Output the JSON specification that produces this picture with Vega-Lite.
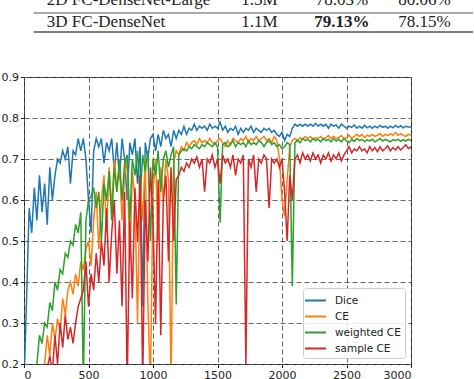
{
  "$schema": "https://vega.github.io/schema/vega-lite/v6.json",
  "background": "white",
  "padding": 0,
  "spacing": 34,
  "resolve": {"legend": {"color": "independent"}, "scale": {"color": "independent", "x": "independent", "y": "independent"}},
  "config": {
    "view": {"stroke": "#222", "strokeWidth": 1},
    "axis": {
      "labelFont": "DejaVu Sans", "labelFontSize": 11, "labelColor": "#222",
      "tickColor": "#222", "tickSize": 3.5, "domain": false,
      "gridColor": "#555", "gridDash": [5, 3], "gridWidth": 0.9, "gridOpacity": 1
    }
  },
  "vconcat": [
    {
      "width": 449,
      "height": 36,
      "view": {"stroke": null},
      "layer": [
        {
          "data": {"values": [
            {"ypos": 1.378, "x1": 0.42, "x2": 5.75, "w": 1.0},
            {"ypos": 2.22, "x1": 0.42, "x2": 5.75, "w": 1.6}
          ]},
          "mark": {"type": "rule", "color": "#555", "clip": true},
          "encoding": {
            "y": {"field": "ypos", "type": "quantitative", "scale": {"domain": [0.8, 2.4], "reverse": true, "nice": false, "zero": false}, "axis": null},
            "x": {"field": "x1", "type": "quantitative", "scale": {"domain": [0.303, 5.75], "nice": false, "zero": false}, "axis": null},
            "x2": {"field": "x2"},
            "strokeWidth": {"field": "w", "type": "quantitative", "scale": null, "legend": null}
          }
        },
        {
          "data": {"values": [
            {"row": 1, "col": 0.58, "label": "2D FC-DenseNet-Large", "anchor": "left", "bold": false},
            {"row": 1, "col": 3.16, "label": "1.5M", "anchor": "center", "bold": false},
            {"row": 1, "col": 4.16, "label": "78.03%", "anchor": "center", "bold": false},
            {"row": 1, "col": 5.16, "label": "80.06%", "anchor": "center", "bold": false},
            {"row": 2, "col": 0.58, "label": "3D FC-DenseNet", "anchor": "left", "bold": false},
            {"row": 2, "col": 3.16, "label": "1.1M", "anchor": "center", "bold": false},
            {"row": 2, "col": 4.16, "label": "79.13%", "anchor": "center", "bold": true},
            {"row": 2, "col": 5.16, "label": "78.15%", "anchor": "center", "bold": false}
          ]},
          "layer": [
            {
              "transform": [{"filter": "datum.anchor == 'left'"}],
              "mark": {"type": "text", "font": "Liberation Serif", "fontSize": 17, "color": "#222", "align": "left", "baseline": "alphabetic", "clip": true},
              "encoding": {
                "x": {"field": "col", "type": "quantitative", "scale": {"domain": [0.303, 5.75], "nice": false, "zero": false}, "axis": null},
                "y": {"field": "row", "type": "quantitative", "scale": {"domain": [0.8, 2.4], "reverse": true, "nice": false, "zero": false}, "axis": null},
                "text": {"field": "label"}
              }
            },
            {
              "transform": [{"filter": "datum.anchor == 'center' && !datum.bold"}],
              "mark": {"type": "text", "font": "Liberation Serif", "fontSize": 17, "color": "#222", "align": "center", "baseline": "alphabetic", "clip": true},
              "encoding": {
                "x": {"field": "col", "type": "quantitative", "scale": {"domain": [0.303, 5.75], "nice": false, "zero": false}, "axis": null},
                "y": {"field": "row", "type": "quantitative", "scale": {"domain": [0.8, 2.4], "reverse": true, "nice": false, "zero": false}, "axis": null},
                "text": {"field": "label"}
              }
            },
            {
              "transform": [{"filter": "datum.bold"}],
              "mark": {"type": "text", "font": "Liberation Serif", "fontSize": 17, "fontWeight": "bold", "color": "#222", "align": "center", "baseline": "alphabetic", "clip": true},
              "encoding": {
                "x": {"field": "col", "type": "quantitative", "scale": {"domain": [0.303, 5.75], "nice": false, "zero": false}, "axis": null},
                "y": {"field": "row", "type": "quantitative", "scale": {"domain": [0.8, 2.4], "reverse": true, "nice": false, "zero": false}, "axis": null},
                "text": {"field": "label"}
              }
            }
          ]
        }
      ]
    },
    {
      "width": 387,
      "height": 287,
      "data": {"values": [
{"x":0,"Dice":0.15,"CE":0.1,"weighted CE":0.1,"sample CE":0.1},
{"x":20,"Dice":0.36,"CE":0.1,"weighted CE":0.1,"sample CE":0.1},
{"x":40,"Dice":0.58,"CE":0.1,"weighted CE":0.1,"sample CE":0.1},
{"x":60,"Dice":0.52,"CE":0.1,"weighted CE":0.1,"sample CE":0.1},
{"x":80,"Dice":0.63,"CE":0.1,"weighted CE":0.1,"sample CE":0.1},
{"x":100,"Dice":0.55,"CE":0.1,"weighted CE":0.2,"sample CE":0.1},
{"x":120,"Dice":0.66,"CE":0.12,"weighted CE":0.27,"sample CE":0.12},
{"x":140,"Dice":0.57,"CE":0.15,"weighted CE":0.25,"sample CE":0.14},
{"x":160,"Dice":0.64,"CE":0.2,"weighted CE":0.3,"sample CE":0.16},
{"x":180,"Dice":0.54,"CE":0.27,"weighted CE":0.29,"sample CE":0.19},
{"x":200,"Dice":0.68,"CE":0.22,"weighted CE":0.35,"sample CE":0.22},
{"x":220,"Dice":0.6,"CE":0.3,"weighted CE":0.33,"sample CE":0.18},
{"x":240,"Dice":0.66,"CE":0.26,"weighted CE":0.4,"sample CE":0.27},
{"x":260,"Dice":0.7,"CE":0.31,"weighted CE":0.38,"sample CE":0.2},
{"x":280,"Dice":0.69,"CE":0.28,"weighted CE":0.43,"sample CE":0.3},
{"x":300,"Dice":0.72,"CE":0.36,"weighted CE":0.42,"sample CE":0.24},
{"x":320,"Dice":0.7,"CE":0.32,"weighted CE":0.47,"sample CE":0.32},
{"x":340,"Dice":0.73,"CE":0.38,"weighted CE":0.46,"sample CE":0.26},
{"x":360,"Dice":0.64,"CE":0.4,"weighted CE":0.5,"sample CE":0.29},
{"x":380,"Dice":0.72,"CE":0.37,"weighted CE":0.49,"sample CE":0.25},
{"x":400,"Dice":0.71,"CE":0.42,"weighted CE":0.54,"sample CE":0.3},
{"x":420,"Dice":0.75,"CE":0.39,"weighted CE":0.52,"sample CE":0.34},
{"x":440,"Dice":0.72,"CE":0.45,"weighted CE":0.57,"sample CE":0.36},
{"x":460,"Dice":0.75,"CE":0.43,"weighted CE":0.15,"sample CE":0.38},
{"x":480,"Dice":0.7,"CE":0.48,"weighted CE":0.55,"sample CE":0.45},
{"x":500,"Dice":0.6,"CE":0.5,"weighted CE":0.6,"sample CE":0.34},
{"x":520,"Dice":0.52,"CE":0.44,"weighted CE":0.61,"sample CE":0.42},
{"x":540,"Dice":0.72,"CE":0.55,"weighted CE":0.63,"sample CE":0.38},
{"x":560,"Dice":0.75,"CE":0.62,"weighted CE":0.58,"sample CE":0.47},
{"x":580,"Dice":0.73,"CE":0.48,"weighted CE":0.62,"sample CE":0.4},
{"x":600,"Dice":0.75,"CE":0.6,"weighted CE":0.5,"sample CE":0.5},
{"x":620,"Dice":0.69,"CE":0.66,"weighted CE":0.64,"sample CE":0.44},
{"x":640,"Dice":0.74,"CE":0.52,"weighted CE":0.6,"sample CE":0.58},
{"x":660,"Dice":0.72,"CE":0.68,"weighted CE":0.67,"sample CE":0.4},
{"x":680,"Dice":0.75,"CE":0.58,"weighted CE":0.55,"sample CE":0.52},
{"x":700,"Dice":0.67,"CE":0.7,"weighted CE":0.68,"sample CE":0.6},
{"x":720,"Dice":0.74,"CE":0.62,"weighted CE":0.62,"sample CE":0.42},
{"x":740,"Dice":0.65,"CE":0.69,"weighted CE":0.7,"sample CE":0.55},
{"x":760,"Dice":0.75,"CE":0.55,"weighted CE":0.6,"sample CE":0.34},
{"x":780,"Dice":0.7,"CE":0.66,"weighted CE":0.69,"sample CE":0.62},
{"x":800,"Dice":0.6,"CE":0.7,"weighted CE":0.71,"sample CE":0.15},
{"x":820,"Dice":0.74,"CE":0.45,"weighted CE":0.55,"sample CE":0.55},
{"x":840,"Dice":0.71,"CE":0.67,"weighted CE":0.7,"sample CE":0.36},
{"x":860,"Dice":0.75,"CE":0.6,"weighted CE":0.66,"sample CE":0.63},
{"x":880,"Dice":0.64,"CE":0.3,"weighted CE":0.72,"sample CE":0.5},
{"x":900,"Dice":0.73,"CE":0.65,"weighted CE":0.6,"sample CE":0.66},
{"x":920,"Dice":0.34,"CE":0.55,"weighted CE":0.71,"sample CE":0.15},
{"x":940,"Dice":0.74,"CE":0.7,"weighted CE":0.67,"sample CE":0.6},
{"x":960,"Dice":0.7,"CE":0.35,"weighted CE":0.72,"sample CE":0.45},
{"x":980,"Dice":0.75,"CE":0.15,"weighted CE":0.5,"sample CE":0.68},
{"x":1000,"Dice":0.76,"CE":0.62,"weighted CE":0.7,"sample CE":0.55},
{"x":1020,"Dice":0.72,"CE":0.7,"weighted CE":0.66,"sample CE":0.3},
{"x":1040,"Dice":0.76,"CE":0.5,"weighted CE":0.72,"sample CE":0.65},
{"x":1060,"Dice":0.73,"CE":0.68,"weighted CE":0.62,"sample CE":0.27},
{"x":1080,"Dice":0.77,"CE":0.6,"weighted CE":0.7,"sample CE":0.6},
{"x":1100,"Dice":0.75,"CE":0.7,"weighted CE":0.72,"sample CE":0.66},
{"x":1120,"Dice":0.76,"CE":0.65,"weighted CE":0.68,"sample CE":0.45},
{"x":1140,"Dice":0.73,"CE":0.15,"weighted CE":0.71,"sample CE":0.68},
{"x":1160,"Dice":0.77,"CE":0.69,"weighted CE":0.73,"sample CE":0.5},
{"x":1180,"Dice":0.75,"CE":0.72,"weighted CE":0.345,"sample CE":0.65},
{"x":1200,"Dice":0.77,"CE":0.71,"weighted CE":0.71,"sample CE":0.66},
{"x":1220,"Dice":0.76,"CE":0.73,"weighted CE":0.72,"sample CE":0.68},
{"x":1240,"Dice":0.78,"CE":0.72,"weighted CE":0.725,"sample CE":0.67},
{"x":1260,"Dice":0.76,"CE":0.74,"weighted CE":0.72,"sample CE":0.69},
{"x":1280,"Dice":0.775,"CE":0.73,"weighted CE":0.73,"sample CE":0.68},
{"x":1300,"Dice":0.77,"CE":0.74,"weighted CE":0.725,"sample CE":0.7},
{"x":1320,"Dice":0.785,"CE":0.745,"weighted CE":0.735,"sample CE":0.69},
{"x":1340,"Dice":0.77,"CE":0.735,"weighted CE":0.73,"sample CE":0.705},
{"x":1360,"Dice":0.78,"CE":0.75,"weighted CE":0.725,"sample CE":0.68},
{"x":1380,"Dice":0.775,"CE":0.74,"weighted CE":0.735,"sample CE":0.7},
{"x":1400,"Dice":0.78,"CE":0.745,"weighted CE":0.73,"sample CE":0.62},
{"x":1420,"Dice":0.77,"CE":0.74,"weighted CE":0.74,"sample CE":0.7},
{"x":1440,"Dice":0.785,"CE":0.75,"weighted CE":0.735,"sample CE":0.69},
{"x":1460,"Dice":0.775,"CE":0.74,"weighted CE":0.73,"sample CE":0.71},
{"x":1480,"Dice":0.78,"CE":0.735,"weighted CE":0.74,"sample CE":0.68},
{"x":1500,"Dice":0.775,"CE":0.745,"weighted CE":0.73,"sample CE":0.7},
{"x":1520,"Dice":0.79,"CE":0.75,"weighted CE":0.545,"sample CE":0.64},
{"x":1540,"Dice":0.77,"CE":0.74,"weighted CE":0.735,"sample CE":0.71},
{"x":1560,"Dice":0.78,"CE":0.73,"weighted CE":0.74,"sample CE":0.69},
{"x":1580,"Dice":0.765,"CE":0.745,"weighted CE":0.73,"sample CE":0.7},
{"x":1600,"Dice":0.775,"CE":0.735,"weighted CE":0.735,"sample CE":0.68},
{"x":1620,"Dice":0.77,"CE":0.75,"weighted CE":0.745,"sample CE":0.71},
{"x":1640,"Dice":0.78,"CE":0.745,"weighted CE":0.73,"sample CE":0.66},
{"x":1660,"Dice":0.76,"CE":0.74,"weighted CE":0.74,"sample CE":0.7},
{"x":1680,"Dice":0.775,"CE":0.75,"weighted CE":0.735,"sample CE":0.69},
{"x":1700,"Dice":0.765,"CE":0.745,"weighted CE":0.74,"sample CE":0.71},
{"x":1720,"Dice":0.775,"CE":0.755,"weighted CE":0.73,"sample CE":0.2},
{"x":1740,"Dice":0.77,"CE":0.74,"weighted CE":0.745,"sample CE":0.7},
{"x":1760,"Dice":0.78,"CE":0.75,"weighted CE":0.735,"sample CE":0.68},
{"x":1780,"Dice":0.765,"CE":0.745,"weighted CE":0.74,"sample CE":0.71},
{"x":1800,"Dice":0.775,"CE":0.755,"weighted CE":0.735,"sample CE":0.62},
{"x":1820,"Dice":0.77,"CE":0.745,"weighted CE":0.745,"sample CE":0.7},
{"x":1840,"Dice":0.765,"CE":0.75,"weighted CE":0.74,"sample CE":0.69},
{"x":1860,"Dice":0.775,"CE":0.755,"weighted CE":0.73,"sample CE":0.71},
{"x":1880,"Dice":0.77,"CE":0.745,"weighted CE":0.74,"sample CE":0.7},
{"x":1900,"Dice":0.775,"CE":0.75,"weighted CE":0.745,"sample CE":0.58},
{"x":1920,"Dice":0.765,"CE":0.74,"weighted CE":0.735,"sample CE":0.7},
{"x":1940,"Dice":0.77,"CE":0.755,"weighted CE":0.74,"sample CE":0.69},
{"x":1960,"Dice":0.76,"CE":0.745,"weighted CE":0.73,"sample CE":0.7},
{"x":1980,"Dice":0.755,"CE":0.7,"weighted CE":0.735,"sample CE":0.68},
{"x":2000,"Dice":0.765,"CE":0.6,"weighted CE":0.725,"sample CE":0.7},
{"x":2020,"Dice":0.745,"CE":0.56,"weighted CE":0.73,"sample CE":0.62},
{"x":2040,"Dice":0.76,"CE":0.65,"weighted CE":0.74,"sample CE":0.5},
{"x":2060,"Dice":0.755,"CE":0.73,"weighted CE":0.735,"sample CE":0.66},
{"x":2080,"Dice":0.775,"CE":0.745,"weighted CE":0.39,"sample CE":0.6},
{"x":2100,"Dice":0.785,"CE":0.75,"weighted CE":0.74,"sample CE":0.7},
{"x":2120,"Dice":0.78,"CE":0.745,"weighted CE":0.745,"sample CE":0.71},
{"x":2140,"Dice":0.785,"CE":0.752,"weighted CE":0.74,"sample CE":0.69},
{"x":2160,"Dice":0.78,"CE":0.748,"weighted CE":0.75,"sample CE":0.715},
{"x":2180,"Dice":0.785,"CE":0.755,"weighted CE":0.745,"sample CE":0.7},
{"x":2200,"Dice":0.78,"CE":0.75,"weighted CE":0.748,"sample CE":0.71},
{"x":2220,"Dice":0.785,"CE":0.755,"weighted CE":0.742,"sample CE":0.695},
{"x":2240,"Dice":0.78,"CE":0.748,"weighted CE":0.75,"sample CE":0.715},
{"x":2260,"Dice":0.787,"CE":0.752,"weighted CE":0.745,"sample CE":0.7},
{"x":2280,"Dice":0.78,"CE":0.75,"weighted CE":0.748,"sample CE":0.71},
{"x":2300,"Dice":0.785,"CE":0.755,"weighted CE":0.742,"sample CE":0.69},
{"x":2320,"Dice":0.78,"CE":0.748,"weighted CE":0.75,"sample CE":0.71},
{"x":2340,"Dice":0.785,"CE":0.752,"weighted CE":0.745,"sample CE":0.7},
{"x":2360,"Dice":0.775,"CE":0.757,"weighted CE":0.748,"sample CE":0.715},
{"x":2380,"Dice":0.785,"CE":0.75,"weighted CE":0.742,"sample CE":0.695},
{"x":2400,"Dice":0.78,"CE":0.755,"weighted CE":0.75,"sample CE":0.71},
{"x":2420,"Dice":0.783,"CE":0.75,"weighted CE":0.744,"sample CE":0.7},
{"x":2440,"Dice":0.775,"CE":0.752,"weighted CE":0.748,"sample CE":0.715},
{"x":2460,"Dice":0.785,"CE":0.757,"weighted CE":0.742,"sample CE":0.695},
{"x":2480,"Dice":0.78,"CE":0.75,"weighted CE":0.75,"sample CE":0.71},
{"x":2500,"Dice":0.775,"CE":0.752,"weighted CE":0.745,"sample CE":0.72},
{"x":2520,"Dice":0.78,"CE":0.758,"weighted CE":0.74,"sample CE":0.73},
{"x":2540,"Dice":0.777,"CE":0.75,"weighted CE":0.748,"sample CE":0.715},
{"x":2560,"Dice":0.783,"CE":0.755,"weighted CE":0.743,"sample CE":0.725},
{"x":2580,"Dice":0.775,"CE":0.76,"weighted CE":0.75,"sample CE":0.72},
{"x":2600,"Dice":0.78,"CE":0.755,"weighted CE":0.745,"sample CE":0.73},
{"x":2620,"Dice":0.775,"CE":0.76,"weighted CE":0.748,"sample CE":0.72},
{"x":2640,"Dice":0.782,"CE":0.752,"weighted CE":0.742,"sample CE":0.725},
{"x":2660,"Dice":0.776,"CE":0.758,"weighted CE":0.747,"sample CE":0.715},
{"x":2680,"Dice":0.78,"CE":0.755,"weighted CE":0.744,"sample CE":0.73},
{"x":2700,"Dice":0.775,"CE":0.76,"weighted CE":0.748,"sample CE":0.72},
{"x":2720,"Dice":0.78,"CE":0.755,"weighted CE":0.742,"sample CE":0.728},
{"x":2740,"Dice":0.776,"CE":0.758,"weighted CE":0.746,"sample CE":0.718},
{"x":2760,"Dice":0.782,"CE":0.762,"weighted CE":0.75,"sample CE":0.73},
{"x":2780,"Dice":0.777,"CE":0.755,"weighted CE":0.744,"sample CE":0.72},
{"x":2800,"Dice":0.78,"CE":0.76,"weighted CE":0.748,"sample CE":0.725},
{"x":2820,"Dice":0.775,"CE":0.757,"weighted CE":0.745,"sample CE":0.732},
{"x":2840,"Dice":0.78,"CE":0.762,"weighted CE":0.742,"sample CE":0.72},
{"x":2860,"Dice":0.776,"CE":0.758,"weighted CE":0.747,"sample CE":0.728},
{"x":2880,"Dice":0.782,"CE":0.765,"weighted CE":0.745,"sample CE":0.722},
{"x":2900,"Dice":0.777,"CE":0.758,"weighted CE":0.748,"sample CE":0.73},
{"x":2920,"Dice":0.781,"CE":0.762,"weighted CE":0.743,"sample CE":0.722},
{"x":2940,"Dice":0.776,"CE":0.757,"weighted CE":0.747,"sample CE":0.728},
{"x":2960,"Dice":0.78,"CE":0.755,"weighted CE":0.744,"sample CE":0.735},
{"x":2980,"Dice":0.778,"CE":0.76,"weighted CE":0.748,"sample CE":0.725},
{"x":3000,"Dice":0.778,"CE":0.758,"weighted CE":0.745,"sample CE":0.73}
      ]},
      "transform": [{"fold": ["Dice", "CE", "weighted CE", "sample CE"], "as": ["series", "score"]}],
      "mark": {"type": "line", "strokeWidth": 1.5, "clip": true},
      "encoding": {
        "x": {
          "field": "x", "type": "quantitative",
          "scale": {"domain": [0, 3000], "nice": false},
          "axis": {"title": null, "values": [0, 500, 1000, 1500, 2000, 2500, 3000], "format": "d", "grid": true, "labelPadding": 2}
        },
        "y": {
          "field": "score", "type": "quantitative",
          "scale": {"domain": [0.2, 0.9], "nice": false, "zero": false},
          "axis": {"title": null, "values": [0.2, 0.3, 0.4, 0.5, 0.6, 0.7, 0.8, 0.9], "format": ".1f", "grid": true, "labelPadding": 2}
        },
        "color": {
          "field": "series", "type": "nominal",
          "scale": {"domain": ["Dice", "CE", "weighted CE", "sample CE"], "range": ["#1f77b4", "#ff7f0e", "#2ca02c", "#d62728"]},
          "legend": {
            "title": null, "orient": "bottom-right", "offset": 6,
            "fillColor": "rgba(255,255,255,0.85)", "strokeColor": "#ccc", "cornerRadius": 3,
            "padding": 4, "symbolType": "M-1.4,0H1.4", "symbolSize": 225, "symbolStrokeWidth": 2,
            "labelFont": "DejaVu Sans", "labelFontSize": 10.5, "labelColor": "#222",
            "rowPadding": 2, "labelOffset": 11
          }
        }
      }
    }
  ]
}
